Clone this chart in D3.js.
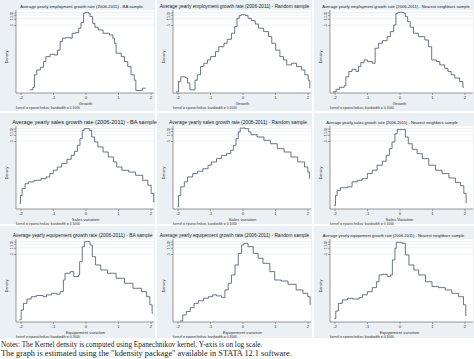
<!DOCTYPE html>
<html><head><meta charset="utf-8">
<script src="https://cdn.jsdelivr.net/npm/d3@7/dist/d3.min.js"></script>
<style>body{margin:0;background:#fff}svg{display:block}</style>
</head><body>
<svg id="c" width="474" height="359"></svg>
<script>
// ---- data (x grid and density) ----
const empBA_x = [-1.72,-1.62,-1.57,-1.50,-1.39,-1.29,-1.22,-1.09,-0.96,-0.86,-0.78,-0.71,-0.61,-0.46,-0.41,-0.31,-0.21,-0.14,-0.06,-0.01,0.09,0.14,0.22,0.29,0.39,0.54,0.74,0.84,0.89,0.94,1.10,1.20,1.30,1.40,1.50,1.55,1.75,1.85];
const empBA_d = [0.00038,0.0005,0.002,0.0034,0.0046,0.0087,0.015,0.0195,0.018,0.031,0.079,0.115,0.123,0.115,0.2,0.214,0.35,0.65,1.82,2.04,1.82,1.26,0.6,0.39,0.29,0.2,0.166,0.115,0.066,0.022,0.015,0.0087,0.005,0.002,0.0011,0.00035,0.00045,0.00045];
const empRS_x = [-2.05,-1.97,-1.90,-1.75,-1.69,-1.62,-1.46,-1.39,-1.29,-1.19,-1.08,-0.98,-0.83,-0.73,-0.57,-0.47,-0.34,-0.24,-0.17,-0.10,-0.04,0.09,0.17,0.27,0.39,0.49,0.65,0.80,0.90,1.02,1.15,1.26,1.36,1.51,1.66,1.82,1.92,2.02,2.07];
const empRS_d = [0.0003,0.00095,0.0016,0.0014,0.0008,0.00038,0.0011,0.002,0.005,0.0072,0.0104,0.015,0.026,0.045,0.066,0.103,0.2,0.42,1.05,1.41,1.57,1.41,1.05,0.81,0.56,0.35,0.24,0.138,0.066,0.031,0.015,0.0104,0.006,0.0072,0.005,0.0034,0.002,0.0011,0.00045];
const empNN_x = [-2.05,-1.95,-1.85,-1.70,-1.65,-1.56,-1.46,-1.34,-1.26,-1.19,-1.09,-0.99,-0.84,-0.75,-0.65,-0.53,-0.38,-0.28,-0.18,-0.11,-0.05,0.13,0.18,0.25,0.33,0.43,0.58,0.78,0.89,0.99,1.14,1.24,1.39,1.49,1.59,1.70,1.85,1.95,1.98];
const empNN_d = [0.0003,0.0004,0.0005,0.0006,0.0016,0.0029,0.0037,0.0029,0.005,0.0077,0.0104,0.0087,0.0072,0.038,0.066,0.088,0.138,0.24,0.5,1.82,2.04,1.82,1.26,0.72,0.39,0.2,0.138,0.095,0.045,0.0104,0.0087,0.006,0.0041,0.0029,0.002,0.0014,0.00095,0.0005,0.0005];
const salBA_x = [-2.03,-2.00,-1.95,-1.86,-1.76,-1.58,-1.37,-1.21,-1.10,-0.99,-0.87,-0.73,-0.57,-0.44,-0.34,-0.25,-0.17,-0.10,-0.04,0.12,0.19,0.28,0.38,0.54,0.70,0.86,0.96,1.12,1.33,1.54,1.76,1.92,2.02,2.10,2.12];
const salBA_d = [0.00049,0.0012,0.0026,0.0044,0.0054,0.0064,0.0077,0.0093,0.0135,0.0195,0.028,0.041,0.066,0.103,0.16,0.31,0.65,1.63,1.96,1.63,0.78,0.45,0.26,0.148,0.085,0.049,0.028,0.0195,0.016,0.0112,0.0064,0.0037,0.0015,0.00058,0.00058];
const salRS_x = [-2.00,-1.97,-1.90,-1.79,-1.69,-1.53,-1.38,-1.22,-1.06,-0.96,-0.80,-0.65,-0.49,-0.36,-0.28,-0.20,-0.13,-0.07,0.08,0.19,0.26,0.45,0.66,0.86,1.07,1.28,1.49,1.70,1.91,2.01,2.06,2.07];
const salRS_d = [0.00034,0.0012,0.0031,0.0054,0.0093,0.0135,0.0174,0.023,0.034,0.049,0.071,0.1,0.123,0.178,0.31,0.65,1.36,2.1,1.96,1.36,1.0,0.78,0.54,0.37,0.214,0.148,0.085,0.049,0.028,0.016,0.0077,0.0077];
const salNN_x = [-2.02,-1.97,-1.92,-1.82,-1.61,-1.46,-1.30,-1.15,-0.99,-0.84,-0.69,-0.53,-0.41,-0.31,-0.23,-0.14,-0.07,0.08,0.18,0.27,0.39,0.54,0.70,0.90,1.11,1.31,1.52,1.72,1.88,1.98,2.05,2.07];
const salNN_d = [0.0004,0.0012,0.0021,0.0028,0.0031,0.0054,0.0064,0.0077,0.0135,0.0195,0.034,0.053,0.103,0.214,0.45,1.13,1.8,1.8,0.78,0.37,0.2,0.123,0.071,0.034,0.0195,0.0135,0.0083,0.005,0.0035,0.0015,0.00054,0.00054];
const eqBA_x = [-2.03,-1.98,-1.91,-1.80,-1.67,-1.51,-1.30,-1.20,-1.04,-0.89,-0.78,-0.68,-0.63,-0.47,-0.36,-0.21,-0.18,-0.10,-0.03,0.14,0.21,0.31,0.47,0.68,0.94,1.20,1.46,1.72,1.88,1.98,2.05,2.07];
const eqBA_d = [0.00034,0.001,0.0021,0.0034,0.0044,0.005,0.0044,0.0054,0.0064,0.0058,0.0077,0.028,0.059,0.071,0.041,0.049,0.214,1.13,1.96,1.36,0.37,0.148,0.085,0.059,0.034,0.0195,0.0112,0.0077,0.0044,0.0018,0.0007,0.0007];
const eqRS_x = [-1.92,-1.84,-1.73,-1.61,-1.49,-1.36,-1.20,-1.05,-0.92,-0.80,-0.64,-0.54,-0.44,-0.34,-0.23,-0.13,-0.03,0.04,0.17,0.33,0.48,0.63,0.84,0.99,1.19,1.40,1.65,1.86,2.01,2.08,2.09];
const eqRS_d = [0.0003,0.00058,0.00085,0.0013,0.0021,0.0028,0.0037,0.0044,0.0054,0.0048,0.004,0.0093,0.0195,0.049,0.148,0.54,1.36,1.63,1.13,0.54,0.31,0.178,0.071,0.028,0.025,0.0174,0.0093,0.0064,0.0044,0.0018,0.0018];
const eqNN_x = [-2.01,-1.96,-1.88,-1.76,-1.60,-1.45,-1.24,-1.14,-0.99,-0.84,-0.71,-0.63,-0.53,-0.38,-0.28,-0.22,-0.14,-0.10,0.08,0.18,0.29,0.44,0.59,0.80,1.00,1.20,1.41,1.61,1.82,1.97,2.04,2.06];
const eqNN_d = [0.0004,0.0009,0.0021,0.0031,0.0037,0.0034,0.004,0.0054,0.0077,0.012,0.023,0.049,0.053,0.041,0.049,0.26,0.94,1.83,1.63,0.45,0.148,0.085,0.049,0.023,0.0135,0.012,0.0093,0.0064,0.0044,0.0018,0.00054,0.00054];

const titles = [
 "Average yearly employment growth rate (2006-2011) - BA sample",
 "Average yearly employment growth rate (2006-2011) - Random sample",
 "Average yearly employment growth rate (2006-2011) - Nearest neighbors sample",
 "Average yearly sales growth rate (2006-2011)  - BA sample",
 "Average yearly sales growth rate (2006-2011) - Random sample",
 "Average yearly sales growth rate (2006-2011) - Nearest neighbors sample",
 "Average yearly equipement growth rate (2006-2011) - BA sample",
 "Average yearly equipement growth rate (2006-2011) - Random sample",
 "Average yearly equipement growth rate (2006-2011) - Nearest neighbors sample"];
const xTitles = ["Growth","Growth","Growth","Sales variation","Sales variation","Sales Variation","Equipement variation","Equipement variation","Equipement variation"];
const notes = Array(9).fill("kernel = epanechnikov, bandwidth = 0.1000");
const xTicks = [-2,-1,0,1,2];
const xTickLabels = ["-2","-1","0","1","2"];
const yTicks = [0.5,1,1.5,2];
const yTickLabels = [".5","1","1.5","2"];
const series = [[empBA_x,empBA_d],[empRS_x,empRS_d],[empNN_x,empNN_d],[salBA_x,salBA_d],[salRS_x,salRS_d],[salNN_x,salNN_d],[eqBA_x,eqBA_d],[eqRS_x,eqRS_d],[eqNN_x,eqNN_d]];
const footer1 = "Notes: The Kernel density is computed using Epanechnikov kernel. Y-axis is on log scale.";
const footer2 = "The graph is estimated using the \"kdensity package\" available in STATA 12.1 software.";

// ---- layout ----
const SANS = "'Liberation Sans', Arial, sans-serif";
const SERIF = "'Liberation Serif', 'Times New Roman', serif";
const svg = d3.select("#c");
const cols = [{x:0,w:155},{x:157,w:155},{x:314,w:160}];
const rowTop = [-3,113,226], bgTop=[0,113,226], bgH=[111,111,112];
const titleLen = [[123,150,148],[145,138,132],[140,150,142]];
const titleCx = [[81.5,77.5,82],[84.5,81,78],[82.5,77.5,79.5]];
const lineCol = "#44546a", axCol = "#555";

function fitText(sel, target){
  sel.style("font-size","10px");
  const w = sel.node().getComputedTextLength();
  sel.style("font-size", (10*target/w).toFixed(3)+"px");
}

series.forEach((s,i)=>{
  const r = Math.floor(i/3), c = i%3;
  const col = cols[c];
  svg.append("rect").attr("x",col.x).attr("y",bgTop[r]).attr("width",col.w).attr("height",bgH[r]).attr("fill","#eaf0f3");
  const g = svg.append("g").attr("transform",`translate(${col.x},${rowTop[r]})`);
  const pl=16, pr=col.w-1, pt=13, pb=96;
  g.append("rect").attr("x",pl).attr("y",pt).attr("width",pr-pl).attr("height",pb-pt).attr("fill","#fff");
  const x = d3.scaleLinear().domain([-2,2]).range([20.5,150.5]);
  const y = d3.scaleLog().domain([0.000266,2.64]).range([pb,pt]);
  g.selectAll(".gl").data(yTicks).enter().append("line")
    .attr("x1",pl).attr("x2",pr).attr("y1",d=>y(d)).attr("y2",d=>y(d))
    .attr("stroke","#e2e9ee").attr("stroke-width",0.6);
  const yAx = g.append("g").attr("transform",`translate(${pl},0)`)
    .call(d3.axisLeft(y).tickValues(yTicks).tickFormat((d,k)=>yTickLabels[k]).tickSize(2).tickPadding(1));
  yAx.select(".domain").attr("d",`M0,${pt}V${pb}`).attr("stroke",axCol).attr("stroke-width",0.6);
  yAx.selectAll(".tick line").attr("stroke",axCol).attr("stroke-width",0.5);
  yAx.selectAll(".tick text").style("font-family",SANS).style("font-size","3.6px").attr("fill","#333")
    .attr("transform","translate(-4.5,0) rotate(-90)").attr("x",0).attr("y",0).attr("dy","0.32em").attr("text-anchor","middle");
  const xAx = g.append("g").attr("transform",`translate(0,${pb})`)
    .call(d3.axisBottom(x).tickValues(xTicks).tickFormat((d,k)=>xTickLabels[k]).tickSize(2).tickPadding(1.2));
  xAx.select(".domain").attr("d",`M${pl},0H${pr}`).attr("stroke",axCol).attr("stroke-width",0.6);
  xAx.selectAll(".tick line").attr("stroke",axCol).attr("stroke-width",0.5);
  xAx.selectAll(".tick text").style("font-family",SANS).style("font-size","4.2px").attr("fill","#333");
  const pts = d3.zip(s[0],s[1]);
  g.append("path").datum(pts)
    .attr("d",d3.line().x(d=>x(d[0])).y(d=>y(d[1])).curve(d3.curveStepAfter))
    .attr("fill","none").attr("stroke",lineCol).attr("stroke-width",0.8);
  const t = g.append("text").attr("x",titleCx[r][c]).attr("y",10.5).attr("text-anchor","middle")
    .style("font-family",SANS).attr("fill","#222").text(titles[i]);
  fitText(t, titleLen[r][c]);
  g.append("text").attr("transform",`translate(7.5,60) rotate(-90)`).attr("text-anchor","middle")
    .style("font-family",SANS).style("font-size","3.8px").attr("fill","#333").text("Density");
  g.append("text").attr("x",(x(-2)+x(2))/2).attr("y",107.5).attr("text-anchor","middle")
    .style("font-family",SANS).style("font-size","4.2px").attr("fill","#333").text(xTitles[i]);
  const n = g.append("text").attr("x",pl).attr("y",111.5).style("font-family",SANS).attr("fill","#333").text(notes[i]);
  fitText(n, 64);
});

const f1 = svg.append("text").attr("x",1).attr("y",346.5).style("font-family",SERIF).attr("fill","#222").text(footer1);
fitText(f1, 262);
const f2 = svg.append("text").attr("x",1).attr("y",355.5).style("font-family",SERIF).attr("fill","#222").text(footer2);
fitText(f2, 291);
</script>
</body></html>
